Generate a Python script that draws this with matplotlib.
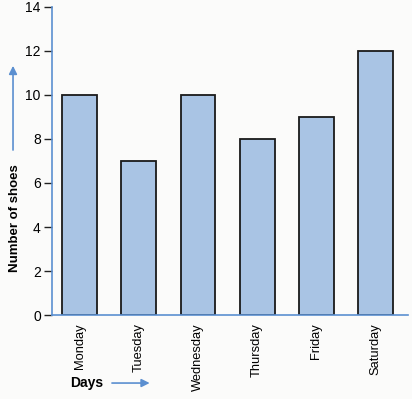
import matplotlib.pyplot as plt

days = ['Monday', 'Tuesday', 'Wednesday', 'Thursday', 'Friday', 'Saturday']
shoes = [10, 7, 10, 8, 9, 12]
y_ticks = [0, 2, 4, 6, 8, 10, 12, 14]

AXIS_BLUE = '#5b8fd0'
BAR_BLUE = '#a9c4e4'

plt.rcParams['font.family'] = ['Liberation Sans', 'DejaVu Sans']

fig = plt.figure(figsize=(4.12, 3.99), dpi=100, facecolor='#fbfbfa')
ax = fig.add_axes([0.126, 0.2105, 0.864, 0.772])
ax.set_facecolor('none')

xs = list(range(len(days)))
ax.bar(xs, shoes, width=0.59, color=BAR_BLUE, edgecolor='#1a1a1a', linewidth=1.3, zorder=2)

ax.set_xlim(-0.47, 5.55)
ax.set_ylim(0, 14)
ax.set_yticks(y_ticks)
ax.set_yticklabels([str(t) for t in y_ticks], fontsize=10)
ax.set_xticks(xs)
ax.set_xticklabels(days, rotation=90, fontsize=9.3)

ax.tick_params(axis='y', length=6, width=1, color='#222222', pad=2)
ax.tick_params(axis='x', length=0, pad=6)

for side in ['top', 'right']:
    ax.spines[side].set_visible(False)
ax.spines['left'].set_color(AXIS_BLUE)
ax.spines['bottom'].set_color(AXIS_BLUE)
ax.spines['left'].set_linewidth(1.2)
ax.spines['bottom'].set_linewidth(1.2)

# axis titles with arrows
fig.text(0.036, 0.454, 'Number of shoes', rotation=90, fontsize=9.5, fontweight='bold',
         ha='center', va='center')
ax.annotate('', xy=(0.0316, 0.842), xytext=(0.0316, 0.617), xycoords='figure fraction',
            arrowprops=dict(arrowstyle='-|>', color=AXIS_BLUE, lw=1.2, mutation_scale=12))

fig.text(0.17, 0.04, 'Days', fontsize=10, fontweight='bold', ha='left', va='center')
ax.annotate('', xy=(0.37, 0.04), xytext=(0.265, 0.04), xycoords='figure fraction',
            arrowprops=dict(arrowstyle='-|>', color=AXIS_BLUE, lw=1.2, mutation_scale=12))

fig.savefig('out.png', dpi=100, facecolor=fig.get_facecolor())
